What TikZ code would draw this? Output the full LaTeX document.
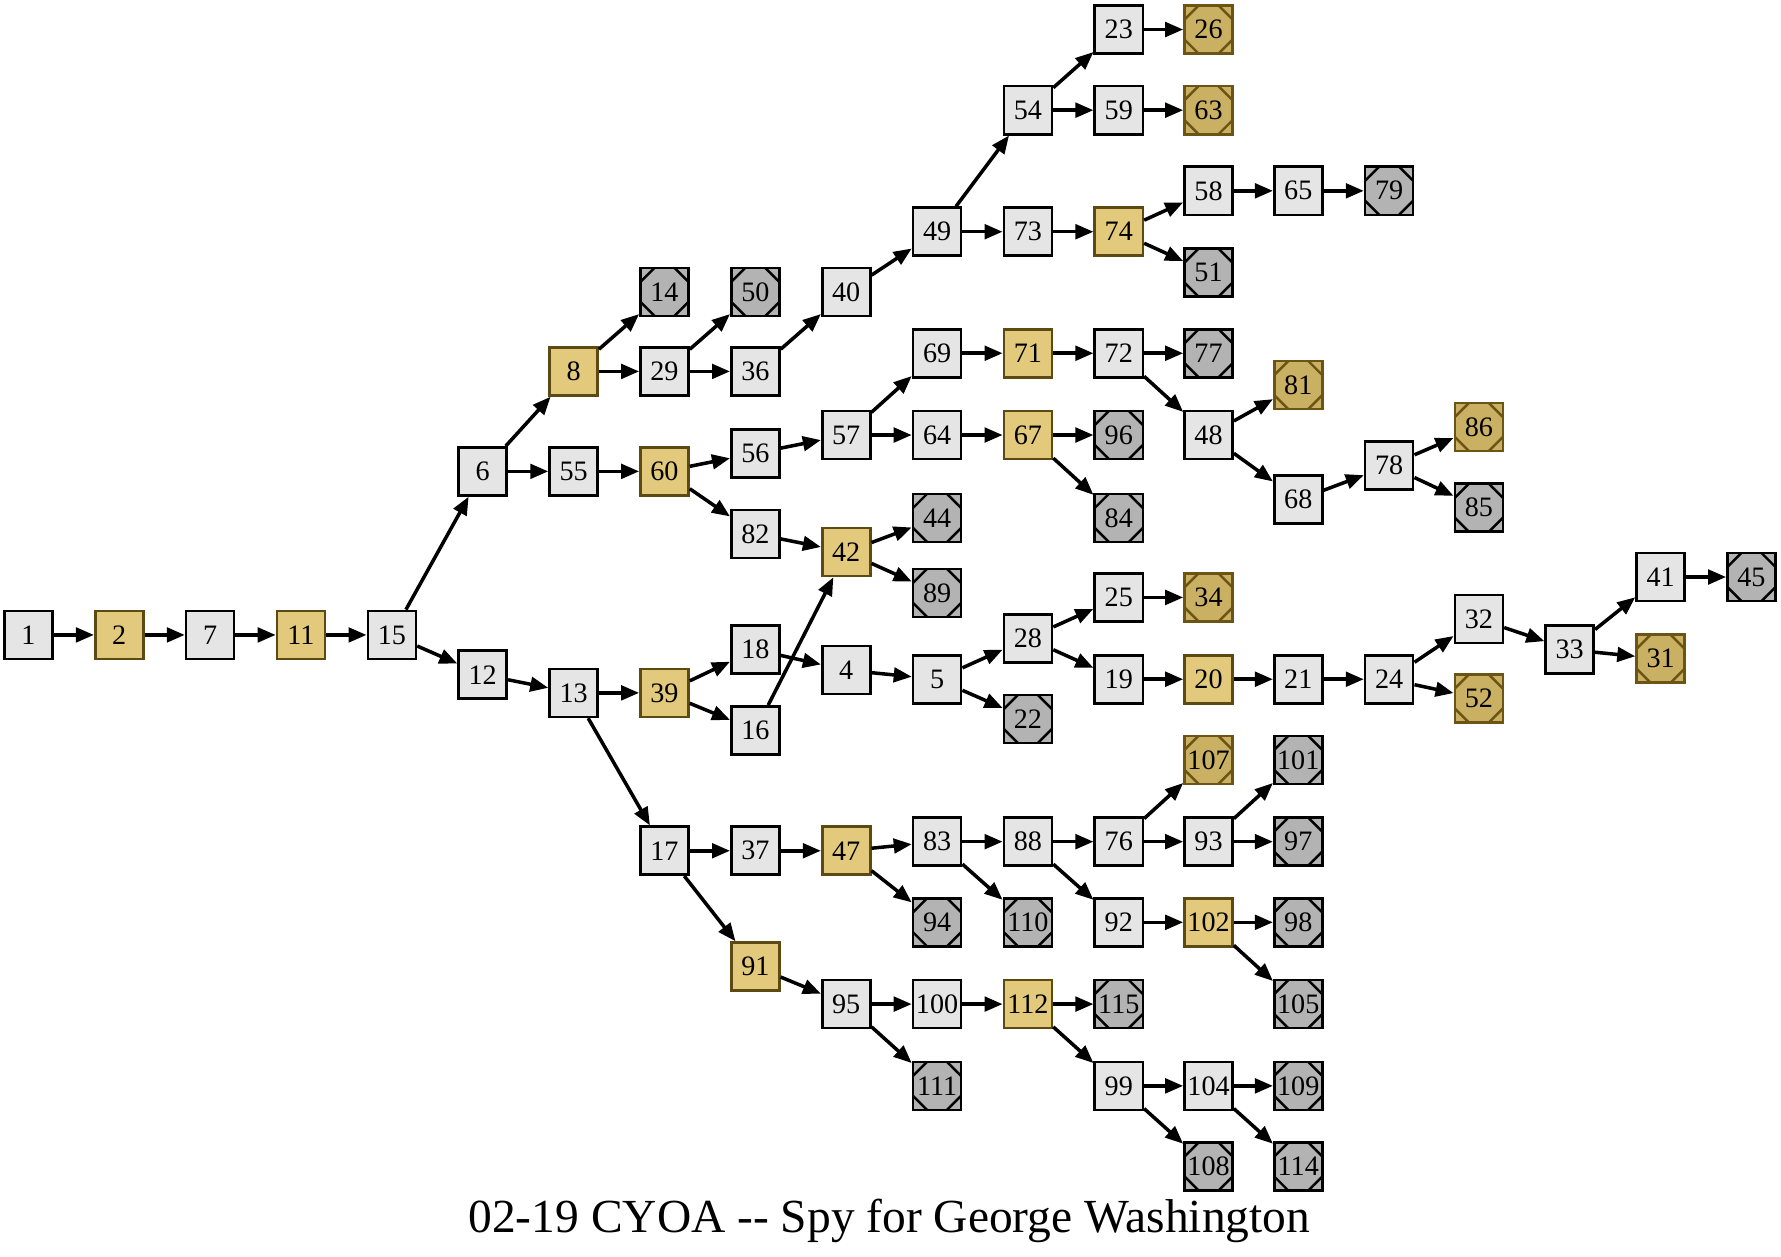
\documentclass[tikz,border=0pt]{standalone}
\usepackage{fontspec}
\setmainfont{Liberation Serif}
\usetikzlibrary{arrows.meta}
\definecolor{plainfill}{HTML}{E5E5E5}
\definecolor{goldfill}{HTML}{E2C97B}
\definecolor{golddraw}{HTML}{5C4A12}
\definecolor{tgoldfill}{HTML}{C9B063}
\definecolor{tgolddraw}{HTML}{6B5414}
\definecolor{tgrayfill}{HTML}{B3B3B3}
\tikzset{
  base/.style={rectangle, minimum size=0.48cm, inner sep=0pt, line width=0.75pt, font=\fontsize{8}{9}\selectfont},
  corners/.style={path picture={
    \draw[line width=0.7pt, draw=#1]
      ([xshift=0.14cm]path picture bounding box.north west) -- ([yshift=-0.14cm]path picture bounding box.north west)
      ([xshift=-0.14cm]path picture bounding box.north east) -- ([yshift=-0.14cm]path picture bounding box.north east)
      ([xshift=0.14cm]path picture bounding box.south west) -- ([yshift=0.14cm]path picture bounding box.south west)
      ([xshift=-0.14cm]path picture bounding box.south east) -- ([yshift=0.14cm]path picture bounding box.south east);
  }},
  plain/.style={base, draw=black, fill=plainfill},
  gold/.style={base, draw=golddraw, fill=goldfill},
  tgold/.style={base, draw=tgolddraw, fill=tgoldfill, corners=tgolddraw},
  tgray/.style={base, draw=black, fill=tgrayfill, corners=black},
  edgeline/.style={line width=1.0pt, -{Triangle[length=0.18cm,width=0.145cm]}},
}
\newcommand\mknode[4]{\node[#1] (n#2) at (#3,#4) {#2};}
\begin{document}
\begin{tikzpicture}[x=0.011358cm, y=-0.011358cm]
\useasboundingbox (0,0) rectangle (1568,1106);
\mknode{plain}{1}{25}{559}
\mknode{gold}{2}{105}{559}
\mknode{plain}{7}{185}{559}
\mknode{gold}{11}{265}{559}
\mknode{plain}{15}{345}{559}
\mknode{plain}{6}{425}{415}
\mknode{plain}{12}{425}{594}
\mknode{gold}{8}{505}{327}
\mknode{plain}{55}{505}{415}
\mknode{plain}{13}{505}{610}
\mknode{tgray}{14}{585}{257}
\mknode{plain}{29}{585}{327}
\mknode{gold}{60}{585}{415}
\mknode{gold}{39}{585}{610}
\mknode{plain}{17}{585}{749}
\mknode{tgray}{50}{665}{257}
\mknode{plain}{36}{665}{327}
\mknode{plain}{56}{665}{399}
\mknode{plain}{82}{665}{470}
\mknode{plain}{18}{665}{572}
\mknode{plain}{16}{665}{643}
\mknode{plain}{37}{665}{749}
\mknode{gold}{91}{665}{851}
\mknode{plain}{40}{745}{257}
\mknode{plain}{57}{745}{383}
\mknode{gold}{42}{745}{486}
\mknode{plain}{4}{745}{590}
\mknode{gold}{47}{745}{749}
\mknode{plain}{95}{745}{884}
\mknode{plain}{49}{825}{204}
\mknode{plain}{69}{825}{311}
\mknode{plain}{64}{825}{383}
\mknode{tgray}{44}{825}{456}
\mknode{tgray}{89}{825}{522}
\mknode{plain}{5}{825}{598}
\mknode{plain}{83}{825}{741}
\mknode{tgray}{94}{825}{812}
\mknode{plain}{100}{825}{884}
\mknode{tgray}{111}{825}{956}
\mknode{plain}{54}{905}{97}
\mknode{plain}{73}{905}{204}
\mknode{gold}{71}{905}{311}
\mknode{gold}{67}{905}{383}
\mknode{plain}{28}{905}{562}
\mknode{tgray}{22}{905}{633}
\mknode{plain}{88}{905}{741}
\mknode{tgray}{110}{905}{812}
\mknode{gold}{112}{905}{884}
\mknode{plain}{23}{985}{26}
\mknode{plain}{59}{985}{97}
\mknode{gold}{74}{985}{204}
\mknode{plain}{72}{985}{311}
\mknode{tgray}{96}{985}{383}
\mknode{tgray}{84}{985}{456}
\mknode{plain}{25}{985}{526}
\mknode{plain}{19}{985}{598}
\mknode{plain}{76}{985}{741}
\mknode{plain}{92}{985}{812}
\mknode{tgray}{115}{985}{884}
\mknode{plain}{99}{985}{956}
\mknode{tgold}{26}{1064}{26}
\mknode{tgold}{63}{1064}{97}
\mknode{plain}{58}{1064}{168}
\mknode{tgray}{51}{1064}{240}
\mknode{tgray}{77}{1064}{311}
\mknode{plain}{48}{1064}{383}
\mknode{tgold}{34}{1064}{526}
\mknode{gold}{20}{1064}{598}
\mknode{tgold}{107}{1064}{669}
\mknode{plain}{93}{1064}{741}
\mknode{gold}{102}{1064}{812}
\mknode{plain}{104}{1064}{956}
\mknode{tgray}{108}{1064}{1027}
\mknode{plain}{65}{1143}{168}
\mknode{tgold}{81}{1143}{339}
\mknode{plain}{68}{1143}{440}
\mknode{plain}{21}{1143}{598}
\mknode{tgray}{101}{1143}{669}
\mknode{tgray}{97}{1143}{741}
\mknode{tgray}{98}{1143}{812}
\mknode{tgray}{105}{1143}{884}
\mknode{tgray}{109}{1143}{956}
\mknode{tgray}{114}{1143}{1027}
\mknode{tgray}{79}{1223}{168}
\mknode{plain}{78}{1223}{410}
\mknode{plain}{24}{1223}{598}
\mknode{tgold}{86}{1302}{376}
\mknode{tgray}{85}{1302}{447}
\mknode{plain}{32}{1302}{545}
\mknode{tgold}{52}{1302}{615}
\mknode{plain}{33}{1382}{572}
\mknode{plain}{41}{1462}{508}
\mknode{tgold}{31}{1462}{580}
\mknode{tgray}{45}{1542}{508}
\foreach \a/\b in {1/2, 2/7, 7/11, 11/15, 15/6, 15/12, 6/8, 6/55, 12/13, 8/14, 8/29, 55/60, 13/39, 13/17,
  29/50, 29/36, 60/56, 60/82, 39/18, 39/16, 17/37, 17/91, 36/40, 56/57, 82/42, 18/4, 16/42, 37/47, 91/95,
  40/49, 57/69, 57/64, 42/44, 42/89, 4/5, 47/83, 47/94, 95/100, 95/111, 49/54, 49/73, 69/71, 64/67,
  5/28, 5/22, 83/88, 83/110, 100/112, 54/23, 54/59, 73/74, 71/72, 67/96, 67/84, 28/25, 28/19, 88/76,
  88/92, 112/115, 112/99, 23/26, 59/63, 74/58, 74/51, 72/77, 72/48, 25/34, 19/20, 76/107, 76/93,
  92/102, 99/104, 99/108, 58/65, 48/81, 48/68, 20/21, 93/101, 93/97, 102/98, 102/105, 104/109,
  104/114, 65/79, 68/78, 21/24, 78/86, 78/85, 24/32, 24/52, 32/33, 33/41, 33/31, 41/45}
  \draw[edgeline] (n\a) -- (n\b);
\node[font=\fontsize{13.5}{16}\selectfont] (title) at (783,1075) {02-19 CYOA -{}- Spy for George Washington};
\end{tikzpicture}
\end{document}
